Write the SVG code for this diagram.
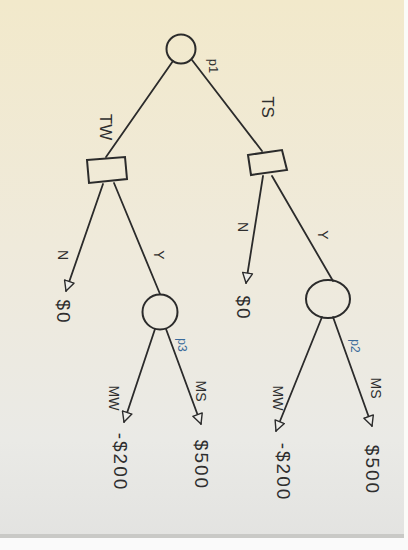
<svg xmlns="http://www.w3.org/2000/svg" width="408" height="550" viewBox="0 0 408 550">
  <defs>
    <linearGradient id="paper" x1="0" y1="0" x2="0" y2="1">
      <stop offset="0" stop-color="#f2e9cb"/>
      <stop offset="0.45" stop-color="#efeadb"/>
      <stop offset="0.8" stop-color="#eaeae6"/>
      <stop offset="1" stop-color="#e2e2e0"/>
    </linearGradient>
    <marker id="arr" viewBox="0 0 12 12" refX="11" refY="6" markerWidth="12" markerHeight="12" markerUnits="userSpaceOnUse" orient="auto">
      <path d="M1,1 L11,6 L1,11 Z" fill="#eeeeea" stroke="#2b2b2b" stroke-width="1.4" stroke-linejoin="round"/>
    </marker>
    <style>
      .ink { fill: none; stroke: #2b2b2b; stroke-width: 1.8; stroke-linecap: round; stroke-linejoin: round; }
      .node { fill: none; stroke: #2b2b2b; stroke-width: 2; }
      .t { font-family: "Liberation Sans", "DejaVu Sans", sans-serif; fill: #2e2e2e; text-anchor: middle; dominant-baseline: central; }
      .lbl { font-size: 14px; }
      .val { font-size: 19px; letter-spacing: 2px; }
      .prob { font-size: 12px; fill: #3a6b9a; }
      .p1 { font-size: 13px; fill: #333333; }
    </style>
  </defs>

  <rect x="0" y="0" width="408" height="550" fill="url(#paper)"/>
  <rect x="0" y="538" width="408" height="12" fill="#fafafa"/>
  <rect x="0" y="534" width="404" height="4" fill="#c9c9c6"/>
  <rect x="404" y="0" width="4" height="538" fill="#fbfbf8"/>

  <g id="connectors">
    <path class="ink" d="M173,61 L106,157"/>
    <path class="ink" d="M192,60 L262,151"/>
    <path class="ink" d="M103,184 L66,291" marker-end="url(#arr)"/>
    <path class="ink" d="M114,183 L160,294"/>
    <path class="ink" d="M263,176 L246,283" marker-end="url(#arr)"/>
    <path class="ink" d="M272,176 L333,281"/>
    <path class="ink" d="M155,329 L124,422" marker-end="url(#arr)"/>
    <path class="ink" d="M166,329 L201,424" marker-end="url(#arr)"/>
    <path class="ink" d="M322,317 L276,431" marker-end="url(#arr)"/>
    <path class="ink" d="M333,317 L372,426" marker-end="url(#arr)"/>
  </g>

  <g id="root">
    <circle class="node" cx="181" cy="49" r="14.5"/>
  </g>
  <g id="decision-left">
    <polygon class="node" points="87,160 125,157 127,179 89,183"/>
  </g>
  <g id="decision-right">
    <polygon class="node" points="248,155 282,150 287,170 251,175"/>
  </g>
  <g id="chance-left">
    <circle class="node" cx="160" cy="312" r="17.5"/>
  </g>
  <g id="chance-right">
    <ellipse class="node" cx="328" cy="299" rx="22" ry="19"/>
  </g>

  <g id="labels">
    <text class="t p1" transform="translate(213,66) rotate(90)">p1</text>
    <text class="t lbl" style="font-size:17px" transform="translate(105,127) rotate(90)">TW</text>
    <text class="t lbl" style="font-size:17px" transform="translate(267,107) rotate(90)">TS</text>
    <text class="t lbl" transform="translate(63,255) rotate(90)">N</text>
    <text class="t lbl" transform="translate(159,255) rotate(90)">Y</text>
    <text class="t lbl" transform="translate(243,227) rotate(90)">N</text>
    <text class="t lbl" transform="translate(323,235) rotate(90)">Y</text>
    <text class="t prob" transform="translate(182,345) rotate(90)">p3</text>
    <text class="t prob" transform="translate(355,346) rotate(90)">p2</text>
    <text class="t lbl" transform="translate(114,398) rotate(90)">MW</text>
    <text class="t lbl" transform="translate(201,391) rotate(90)">MS</text>
    <text class="t lbl" transform="translate(278,398) rotate(90)">MW</text>
    <text class="t lbl" transform="translate(376,388) rotate(90)">MS</text>
  </g>

  <g id="payoffs">
    <text class="t val" transform="translate(63,312) rotate(90)">$0</text>
    <text class="t val" transform="translate(243,308) rotate(90)">$0</text>
    <text class="t val" transform="translate(120,462) rotate(90)">-$200</text>
    <text class="t val" transform="translate(201,465) rotate(90)">$500</text>
    <text class="t val" transform="translate(283,472) rotate(90)">-$200</text>
    <text class="t val" transform="translate(372,470) rotate(90)">$500</text>
  </g>
</svg>
